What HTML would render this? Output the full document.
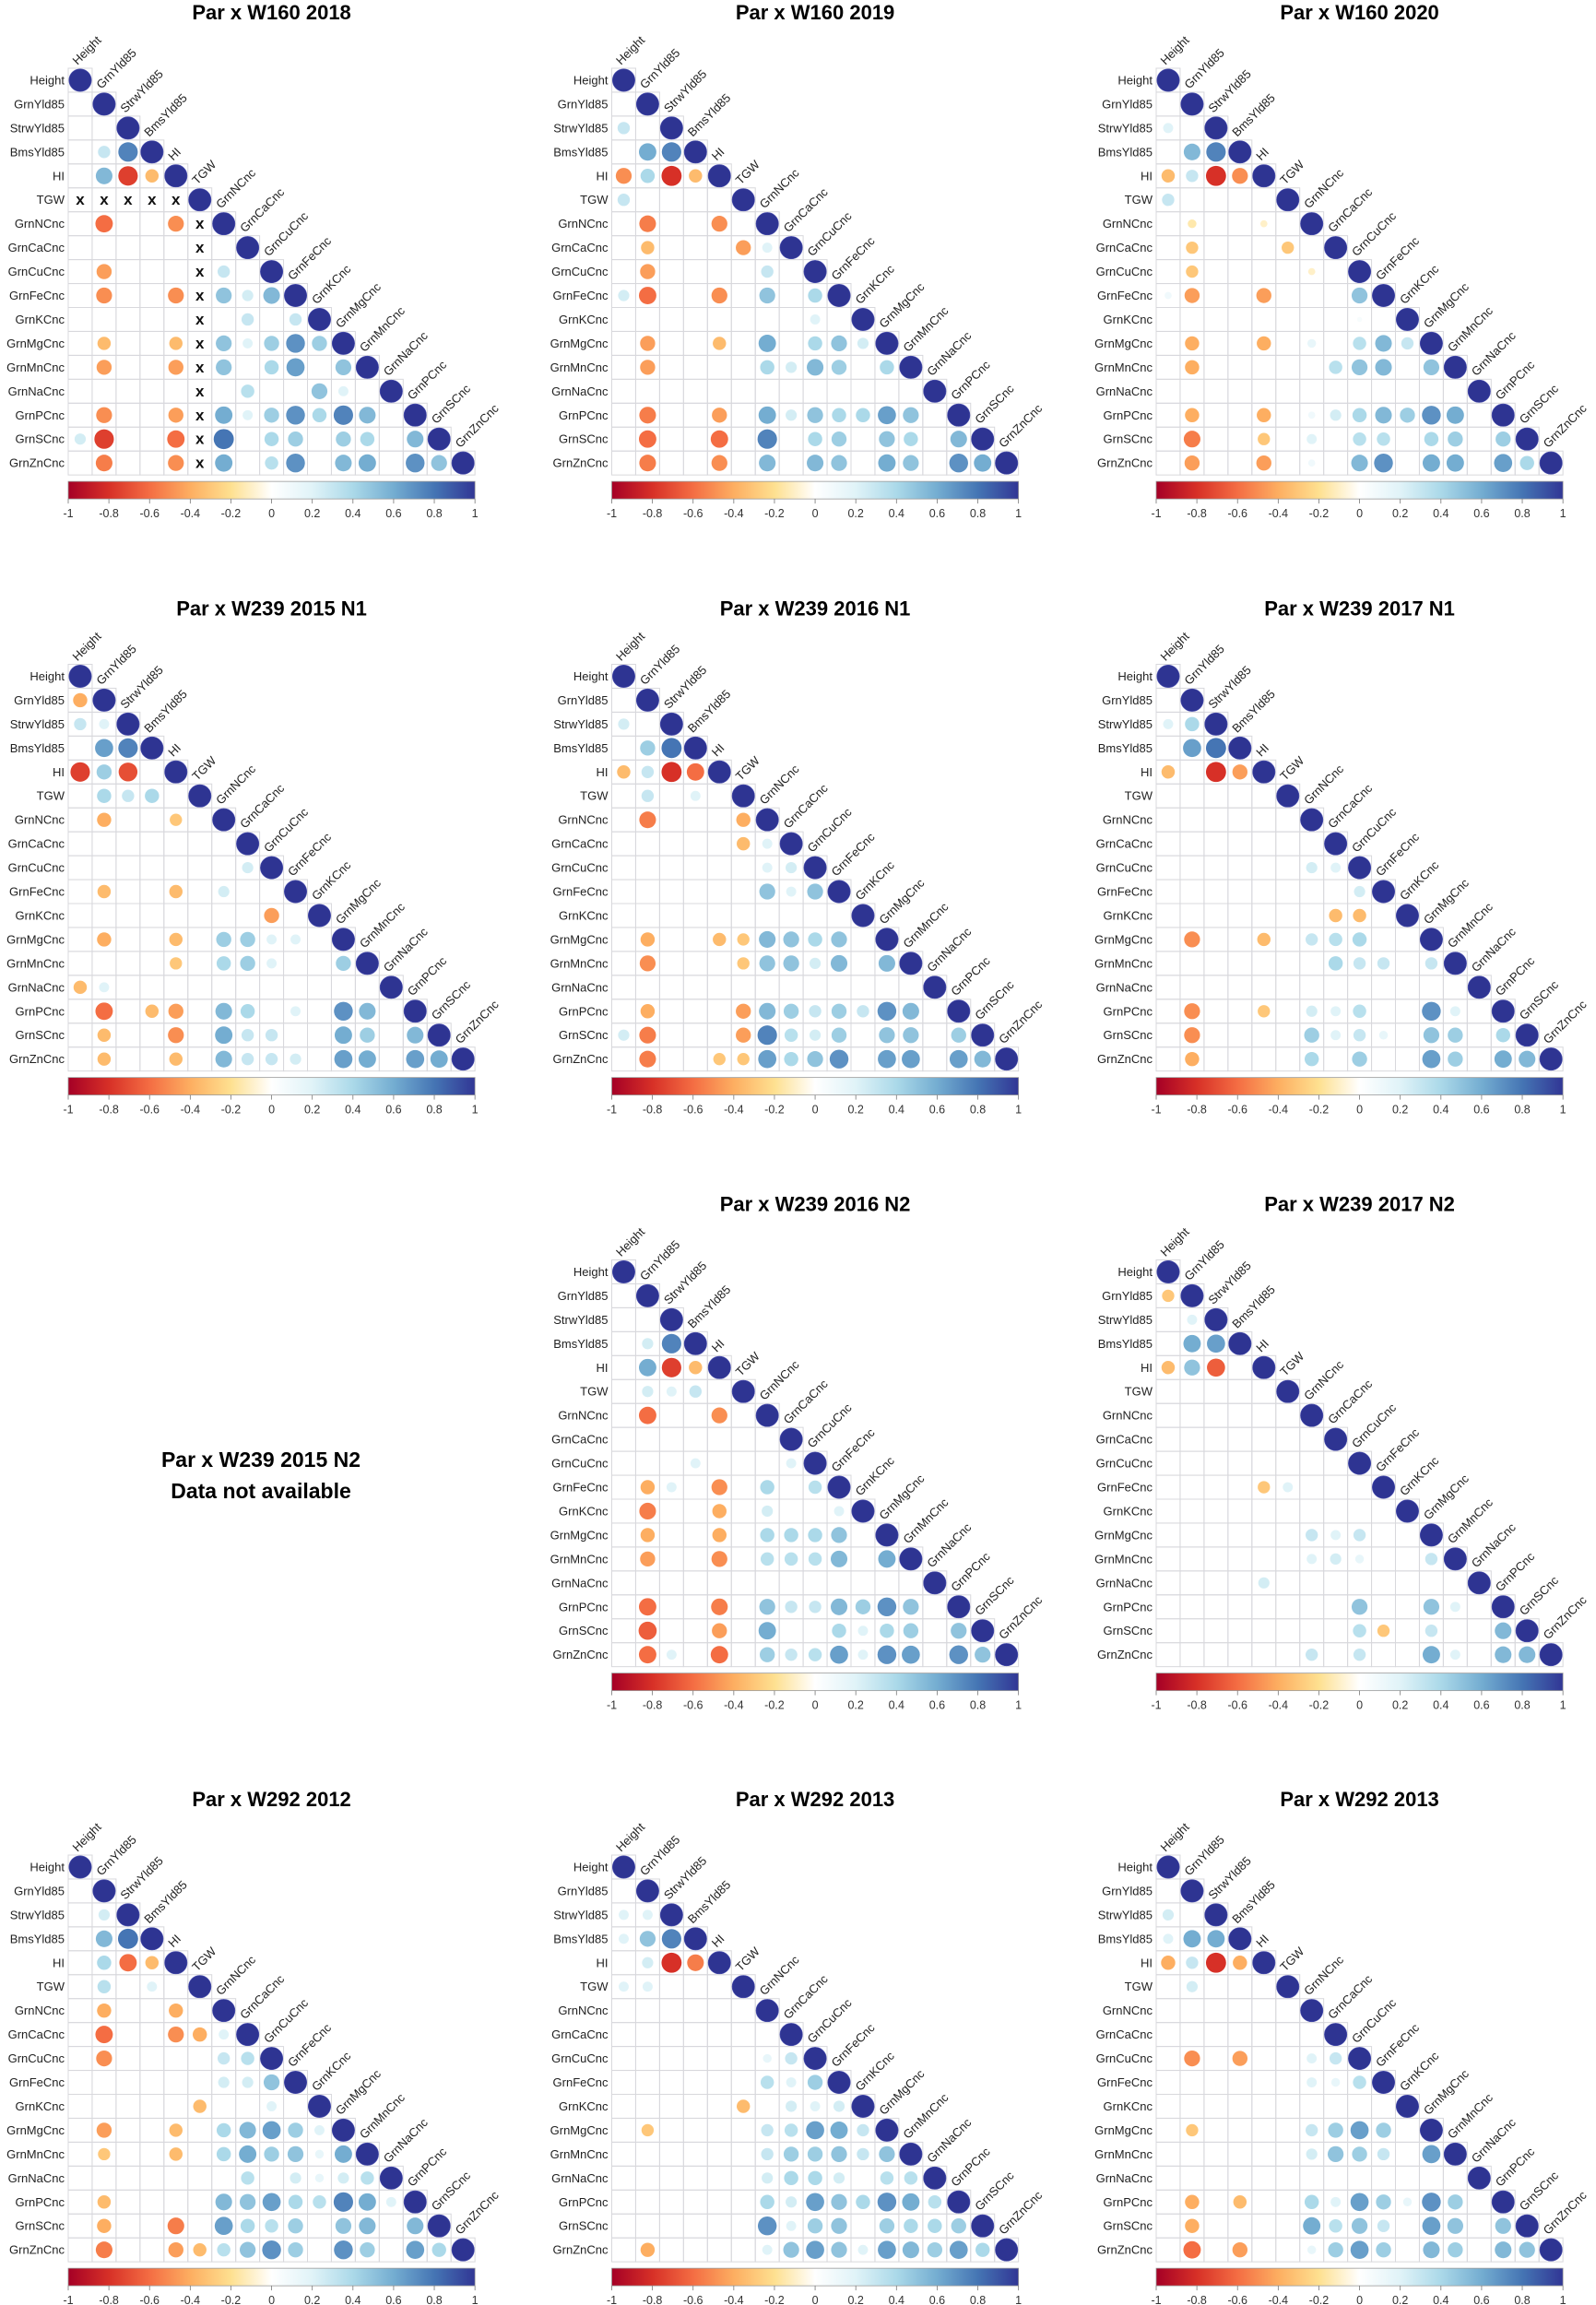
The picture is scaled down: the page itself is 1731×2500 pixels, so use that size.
<!DOCTYPE html>
<html><head><meta charset="utf-8"><title>Correlation matrices</title>
<style>html,body{margin:0;padding:0;background:#fff}svg{display:block}text{font-family:"Liberation Sans",Arial,sans-serif}</style>
</head><body>
<svg id="chart" xmlns="http://www.w3.org/2000/svg" width="1731" height="2500" viewBox="0 0 1731 2500">
<defs>
<linearGradient id="cbar" x1="0" x2="1" y1="0" y2="0">
<stop offset="0" stop-color="#a50026"/><stop offset="0.1" stop-color="#d73027"/><stop offset="0.2" stop-color="#f46d43"/><stop offset="0.3" stop-color="#fdae61"/><stop offset="0.4" stop-color="#fee090"/><stop offset="0.5" stop-color="#ffffff"/><stop offset="0.6" stop-color="#e0f3f8"/><stop offset="0.7" stop-color="#abd9e9"/><stop offset="0.8" stop-color="#74add1"/><stop offset="0.9" stop-color="#4575b4"/><stop offset="1" stop-color="#313695"/>
</linearGradient>
</defs>
<text x="283" y="1591" text-anchor="middle" font-size="23" font-weight="bold">Par x W239 2015 N2</text>
<text x="283" y="1625" text-anchor="middle" font-size="23" font-weight="bold">Data not available</text>
</svg>
<script>
const variables = ["Height","GrnYld85","StrwYld85","BmsYld85","HI","TGW","GrnNCnc","GrnCaCnc","GrnCuCnc","GrnFeCnc","GrnKCnc","GrnMgCnc","GrnMnCnc","GrnNaCnc","GrnPCnc","GrnSCnc","GrnZnCnc"];
const colorbarTicks = [-1,-0.8,-0.6,-0.4,-0.2,0,0.2,0.4,0.6,0.8,1];
const colorbarTickLabels = ["-1","-0.8","-0.6","-0.4","-0.2","0","0.2","0.4","0.6","0.8","1"];
const panelTitles = ["Par x W160 2018","Par x W160 2019","Par x W160 2020","Par x W239 2015 N1","Par x W239 2016 N1","Par x W239 2017 N1","Par x W239 2016 N2","Par x W239 2017 N2","Par x W292 2012","Par x W292 2013","Par x W292 2013"];
const X = "x";
const w160_2018 = [[],[0],[0,0],[0,0.3,0.75],[0,0.55,-0.75,-0.35],[X,X,X,X,X],[0,-0.6,0,0,-0.5,X],[0,0,0,0,0,X,0],[0,-0.45,0,0,0,X,0.3,0],[0,-0.5,0,0,-0.5,X,0.5,0.25,0.55],[0,0,0,0,0,X,0,0.3,0,0.3],[0,-0.35,0,0,-0.35,X,0.5,0.2,0.45,0.7,0.45],[0,-0.45,0,0,-0.45,X,0.5,0,0.4,0.65,0,0.5],[0,0,0,0,0,X,0,0.35,0,0,0.5,0.2,0],[0,-0.5,0,0,-0.45,X,0.6,0.2,0.45,0.7,0.4,0.75,0.55,0],[0.25,-0.75,0,0,-0.6,X,0.8,0,0.4,0.45,0,0.45,0.4,0,0.55],[0,-0.55,0,0,-0.5,X,0.6,0,0.35,0.7,0,0.55,0.6,0,0.7,0.5]];
const w160_2019 = [[],[0],[0.3,0],[0,0.6,0.75],[-0.5,0.4,-0.8,-0.35],[0.3,0,0,0,0],[0,-0.55,0,0,-0.5,0],[0,-0.35,0,0,0,-0.45,0.2],[0,-0.45,0,0,0,0,0.3,0],[0.25,-0.6,0,0,-0.5,0,0.5,0,0.4],[0,0,0,0,0,0,0,0,0.2,0],[0,-0.45,0,0,-0.35,0,0.6,0,0.4,0.5,0.25],[0,-0.45,0,0,0,0,0.4,0.25,0.55,0.45,0,0.4],[0,0,0,0,0,0,0,0,0,0,0,0,0],[0,-0.55,0,0,-0.45,0,0.6,0.25,0.5,0.4,0.4,0.65,0.5,0],[0,-0.6,0,0,-0.6,0,0.75,0,0.4,0.45,0,0.5,0.4,0,0.55],[0,-0.55,0,0,-0.5,0,0.55,0,0.55,0.5,0,0.6,0.5,0,0.7,0.6]];
const w160_2020 = [[],[0],[0.2,0],[0,0.55,0.75],[-0.35,0.3,-0.8,-0.5],[0.3,0,0,0,0],[0,-0.15,0,0,-0.1,0],[0,-0.3,0,0,0,-0.3,0],[0,-0.3,0,0,0,0,-0.1,0],[0.1,-0.45,0,0,-0.45,0,0,0,0.5],[0,0,0,0,0,0,0,0,0.05,0],[0,-0.4,0,0,-0.4,0,0.15,0,0.35,0.55,0.3],[0,-0.4,0,0,0,0,0,0.35,0.5,0.55,0,0.5],[0,0,0,0,0,0,0,0,0,0,0,0,0],[0,-0.4,0,0,-0.4,0,0.1,0.25,0.4,0.55,0.45,0.7,0.6,0],[0,-0.55,0,0,-0.3,0,0.2,0,0.35,0.35,0,0.4,0.45,0,0.45],[0,-0.45,0,0,-0.45,0,0.1,0,0.55,0.7,0,0.6,0.6,0,0.65,0.4]];
const w239_2015_n1 = [[],[-0.4],[0.3,0.2],[0,0.65,0.75],[-0.75,0.45,-0.7,0],[0,0.4,0.3,0.4,0],[0,-0.4,0,0,-0.3,0],[0,0,0,0,0,0,0],[0,0,0,0,0,0,0,0.25],[0,-0.35,0,0,-0.35,0,0.25,0,0],[0,0,0,0,0,0,0,0,-0.45,0],[0,-0.4,0,0,-0.35,0,0.45,0.45,0.2,0.2,0],[0,0,0,0,-0.3,0,0.4,0.45,0.2,0,0,0.45],[-0.35,0.2,0,0,0,0,0,0,0,0,0,0,0],[0,-0.6,0,-0.35,-0.45,0,0.55,0.4,0,0.2,0,0.7,0.55,0],[0,-0.35,0,0,-0.5,0,0.6,0.3,0.3,0,0,0.6,0.45,0,0.55],[0,-0.35,0,0,-0.35,0,0.55,0.3,0.3,0.25,0,0.65,0.6,0,0.65,0.6]];
const w239_2016_n1 = [[],[0],[0.25,0],[0,0.45,0.8],[-0.35,0.3,-0.8,-0.6],[0,0.3,0,0.2,0],[0,-0.55,0,0,0,-0.4],[0,0,0,0,0,-0.35,0.2],[0,0,0,0,0,0,0.2,0.25],[0,0,0,0,0,0,0.5,0.2,0.5],[0,0,0,0,0,0,0,0,0,0],[0,-0.4,0,0,-0.35,-0.3,0.55,0.5,0.4,0.5,0],[0,-0.5,0,0,0,-0.3,0.5,0.5,0.25,0.55,0,0.55],[0,0,0,0,0,0,0,0,0,0,0,0,0],[0,-0.4,0,0,0,-0.45,0.55,0.45,0.3,0.45,0.3,0.7,0.55,0],[0.25,-0.55,0,0,0,-0.45,0.75,0.35,0.25,0.45,0,0.5,0.5,0,0.45],[0,-0.55,0,0,-0.3,-0.3,0.65,0.4,0.5,0.7,0,0.65,0.65,0,0.65,0.55]];
const w239_2017_n1 = [[],[0],[0.2,0.4],[0,0.65,0.8],[-0.35,0,-0.8,-0.45],[0,0,0,0,0],[0,0,0,0,0,0],[0,0,0,0,0,0,0],[0,0,0,0,0,0,0.25,0.2],[0,0,0,0,0,0,0,0,0.25],[0,0,0,0,0,0,0,-0.35,-0.35,0],[0,-0.5,0,0,-0.35,0,0.3,0.35,0.4,0,0],[0,0,0,0,0,0,0,0.4,0.3,0.3,0,0.3],[0,0,0,0,0,0,0,0,0,0,0,0,0],[0,-0.5,0,0,-0.3,0,0.25,0.2,0.35,0,0,0.7,0.2,0],[0,-0.5,0,0,0,0,0.45,0.2,0.3,0.15,0,0.5,0.45,0,0.4],[0,-0.4,0,0,0,0,0.4,0,0.45,0,0,0.65,0.45,0,0.6,0.55]];
const w239_2016_n2 = [[],[0],[0,0],[0,0.25,0.75],[0,0.6,-0.75,-0.35],[0,0.25,0.2,0.3,0],[0,-0.6,0,0,-0.5,0],[0,0,0,0,0,0,0],[0,0,0,0.2,0,0,0,0.2],[0,-0.4,0.2,0,-0.5,0,0.4,0,0.35],[0,-0.55,0,0,-0.4,0,0.25,0,0,0.2],[0,-0.4,0,0,-0.4,0,0.4,0.4,0.4,0.5,0],[0,-0.45,0,0,-0.5,0,0.35,0.35,0.35,0.55,0,0.6],[0,0,0,0,0,0,0,0,0,0,0,0,0],[0,-0.6,0,0,-0.55,0,0.5,0.3,0.3,0.55,0.45,0.7,0.5,0],[0,-0.65,0,0,-0.45,0,0.6,0,0,0.4,0.2,0.4,0.45,0,0.5],[0,-0.6,0.2,0,-0.6,0,0.45,0.3,0.35,0.65,0.2,0.7,0.65,0,0.7,0.5]];
const w239_2017_n2 = [[],[-0.3],[0,0.2],[0,0.6,0.65],[-0.35,0.5,-0.65,0],[0,0,0,0,0],[0,0,0,0,0,0],[0,0,0,0,0,0,0],[0,0,0,0,0,0,0,0],[0,0,0,0,-0.3,0.2,0,0,0],[0,0,0,0,0,0,0,0,0,0],[0,0,0,0,0,0,0.3,0.2,0.3,0,0],[0,0,0,0,0,0,0.2,0.25,0.15,0,0,0.3],[0,0,0,0,0.25,0,0,0,0,0,0,0,0],[0,0,0,0,0,0,0,0,0.5,0,0,0.5,0.2,0],[0,0,0,0,0,0,0,0,0.35,-0.3,0,0.3,0,0,0.55],[0,0,0,0,0,0,0.3,0,0.3,0,0,0.6,0.2,0,0.55,0.55]];
const w292_2012 = [[],[0],[0,0.25],[0,0.55,0.8],[0,0.4,-0.6,-0.35],[0,0.35,0,0.2,0],[0,-0.4,0,0,-0.4,0],[0,-0.6,0,0,-0.5,-0.4,0.2],[0,-0.5,0,0,0,0,0.3,0.35],[0,0,0,0,0,0,0.25,0.25,0.5],[0,0,0,0,0,-0.35,0,0,0.2,0],[0,-0.45,0,0,-0.35,0,0.4,0.55,0.65,0.45,0.2],[0,-0.3,0,0,-0.35,0,0.4,0.6,0.45,0.5,0.15,0.6],[0,0,0,0,0,0,0,0.35,0,0.25,0.15,0.25,0.35],[0,-0.35,0,0,0,0,0.55,0.5,0.65,0.4,0.35,0.75,0.6,0.2],[0,-0.4,0,0,-0.55,0,0.65,0.4,0.35,0.45,0,0.5,0.55,0,0.55],[0,-0.55,0,0,-0.45,-0.35,0.35,0.5,0.7,0.45,0,0.7,0.45,0,0.65,0.4]];
const w292_2013_a = [[],[0],[0.2,0.2],[0.2,0.5,0.75],[0,0.25,-0.8,-0.55],[0.2,0.2,0,0,0],[0,0,0,0,0,0],[0,0,0,0,0,0,0],[0,0,0,0,0,0,0.15,0.3],[0,0,0,0,0,0,0.35,0.2,0.45],[0,0,0,0,0,-0.35,0,0.25,0.2,0.25],[0,-0.3,0,0,0,0,0.3,0.35,0.65,0.6,0.3],[0,0,0,0,0,0,0.3,0.45,0.45,0.5,0.3,0.5],[0,0,0,0,0,0,0.25,0.4,0.4,0.25,0,0.35,0.35],[0,0,0,0,0,0,0.4,0.25,0.65,0.5,0.4,0.7,0.6,0.35],[0,0,0,0,0,0,0.7,0.2,0.45,0.5,0,0.45,0.4,0.4,0.45],[0,-0.4,0,0,0,0,0.2,0.5,0.65,0.5,0.2,0.65,0.55,0.45,0.65,0.4]];
const w292_2013_b = [[],[0],[0.25,0],[0.2,0.6,0.6],[-0.4,0.3,-0.8,-0.4],[0,0.25,0,0,0],[0,0,0,0,0,0],[0,0,0,0,0,0,0],[0,-0.5,0,-0.45,0,0,0.2,0.3],[0,0,0,0,0,0,0.2,0.15,0.35],[0,0,0,0,0,0,0,0,0,0],[0,-0.3,0,0,0,0,0.3,0.45,0.65,0.45,0],[0,0,0,0,0,0,0.25,0.5,0.45,0.3,0,0.65],[0,0,0,0,0,0,0,0,0,0,0,0,0],[0,-0.4,0,-0.35,0,0,0.4,0.2,0.65,0.45,0.15,0.7,0.45,0],[0,-0.4,0,0,0,0,0.6,0.35,0.5,0.3,0,0.65,0.5,0,0.5],[0,-0.6,0,-0.45,0,0,0.15,0.45,0.65,0.45,0,0.55,0.45,0,0.55,0.5]];
const panelMatrices = [w160_2018,w160_2019,w160_2020,w239_2015_n1,w239_2016_n1,w239_2017_n1,w239_2016_n2,w239_2017_n2,w292_2012,w292_2013_a,w292_2013_b];
const panelSlots = [[0,0],[0,1],[0,2],[1,0],[1,1],[1,2],[2,1],[2,2],[3,0],[3,1],[3,2]];

const NS = "http://www.w3.org/2000/svg";
const svg = document.getElementById("chart");
const CELL = 25.95;
const colLeft = [74, 663.5, 1254];
const rowTop = [74, 720.5, 1366.5, 2012];
const stops = [[-1,[165,0,38]],[-0.8,[215,48,39]],[-0.6,[244,109,67]],[-0.4,[253,174,97]],[-0.2,[254,224,144]],[0,[255,255,255]],[0.2,[224,243,248]],[0.4,[171,217,233]],[0.6,[116,173,209]],[0.8,[69,117,180]],[1,[49,54,149]]];
function colorOf(v){
  for(let i=0;i<stops.length-1;i++){
    const a=stops[i],b=stops[i+1];
    if(v<=b[0]){const t=(v-a[0])/(b[0]-a[0]);
      const c=a[1].map((x,k)=>Math.round(x+(b[1][k]-x)*t));
      return "rgb("+c.join(",")+")";}
  }
  return "rgb(49,54,149)";
}
function mk(tag, attrs, parent){const e=document.createElementNS(NS,tag);for(const k in attrs)e.setAttribute(k,attrs[k]);parent.appendChild(e);return e;}
function xScale(gx, j){return gx + j*CELL;}
function yScale(gy, i){return gy + i*CELL;}
function rScale(v){return 12.2*Math.sqrt(Math.abs(v));}
function cbScale(gx, v){return gx + (v+1)/2*17*CELL;}

panelMatrices.forEach((mat, p)=>{
  const gx = colLeft[panelSlots[p][1]], gy = rowTop[panelSlots[p][0]];
  const g = mk("g", {}, svg);
  
  
  const title = mk("text", {x: gx + 17*CELL/2, y: gy - 53, "text-anchor":"middle", "font-size":"22", "font-weight":"bold"}, g);
  
  
  title.textContent = panelTitles[p];
  for(let i=0;i<17;i++){
    for(let j=0;j<=i;j++){
      const rc = mk("rect",{x:xScale(gx,j),y:yScale(gy,i),width:CELL,height:CELL,fill:"none",stroke:"#d8d8dc","stroke-width":"1"},g);
      
      
    }
    const rl = mk("text",{x:gx-4,y:yScale(gy,i)+CELL/2+4.5,"text-anchor":"end","font-size":"13",fill:"#222"},g);
    
    
    rl.textContent = variables[i];
    const cx = xScale(gx,i)+CELL/2, ty = yScale(gy,i)-3;
    const cl = mk("text",{x:cx-3,y:ty,"font-size":"13",fill:"#222",transform:"rotate(-45 "+(cx-3)+" "+ty+")"},g);
    
    
    cl.textContent = variables[i];
    const dc = mk("circle",{cx:cx,cy:yScale(gy,i)+CELL/2,r:rScale(1),fill:"#2e3492",stroke:"#4a4fb0","stroke-width":"0.6"},g);
    
    
    const row = mat[i];
    for(let j=0;j<row.length;j++){
      const v = row[j];
      const x = xScale(gx,j)+CELL/2, y = yScale(gy,i)+CELL/2;
      if(v === X){
        const xt = mk("text",{x:x,y:y+5.5,"text-anchor":"middle","font-size":"17","font-weight":"bold",fill:"#111"},g);
        
        
        xt.textContent = "x";
      } else if(v !== 0){
        const c = mk("circle",{cx:x,cy:y,r:rScale(v),fill:colorOf(v)},g);
        
        
      }
    }
  }
  const by = gy + 17*CELL + 7;
  const cb = mk("rect",{x:gx,y:by,width:17*CELL,height:19,fill:"url(#cbar)",stroke:"#999","stroke-width":"0.8"},g);
  
  
  colorbarTicks.forEach((t,k)=>{
    const tx = cbScale(gx,t);
    const tk = mk("line",{x1:tx,x2:tx,y1:by+19,y2:by+24,stroke:"#777","stroke-width":"0.8"},g);
    
    
    const tl = mk("text",{x:tx,y:by+39,"text-anchor":"middle","font-size":"12.5",fill:"#333"},g);
    
    
    tl.textContent = colorbarTickLabels[k];
  });
});
</script>
</body></html>
